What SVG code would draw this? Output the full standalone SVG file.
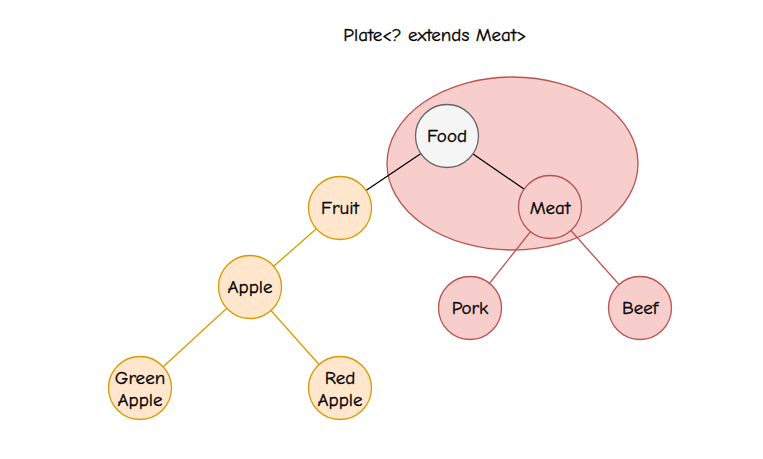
<svg xmlns="http://www.w3.org/2000/svg" width="763" height="459" viewBox="0 0 763 459">
<style>
text{font-family:"Comic Sans MS","Comic Neue","Liberation Sans",sans-serif;font-size:19px;fill:#000;text-anchor:middle;dominant-baseline:central;stroke:#000;stroke-width:0.35}
.grey{fill:#f5f5f5;stroke:#666666;stroke-width:1.3}
.orange{fill:#ffe6cc;stroke:#d79b00;stroke-width:1.3}
.red{fill:#f8cecc;stroke:#b85450;stroke-width:1.3}
.e{fill:none;stroke-width:1.3}
</style>
<rect width="763" height="459" fill="#ffffff"/>
<g id="title"><text x="435" y="35">Plate&lt;? extends Meat&gt;</text></g>
<g id="plate"><ellipse class="red" cx="512.5" cy="163.5" rx="125.5" ry="86.5"/></g>
<g id="connectors">
<line class="e" stroke="#000" x1="447" y1="136" x2="340" y2="208"/>
<line class="e" stroke="#000" x1="447" y1="136" x2="550" y2="207"/>
<line class="e" stroke="#d79b00" x1="340" y1="208" x2="250" y2="287"/>
<line class="e" stroke="#d79b00" x1="250" y1="287" x2="140" y2="388"/>
<line class="e" stroke="#d79b00" x1="250" y1="287" x2="340" y2="388"/>
<line class="e" stroke="#b85450" x1="550" y1="207" x2="470" y2="308"/>
<line class="e" stroke="#b85450" x1="550" y1="207" x2="640" y2="308"/>
</g>
<g id="food"><circle class="grey" cx="447" cy="136" r="31.5"/><text x="447" y="136">Food</text></g>
<g id="meat"><circle class="red" cx="550" cy="207" r="31.5"/><text x="550" y="208">Meat</text></g>
<g id="fruit"><circle class="orange" cx="340" cy="208" r="31.5"/><text x="340" y="208">Fruit</text></g>
<g id="apple"><circle class="orange" cx="250" cy="287" r="31.5"/><text x="250" y="287">Apple</text></g>
<g id="green-apple"><circle class="orange" cx="140" cy="388" r="31.5"/><text x="140" y="378">Green</text><text x="140" y="400">Apple</text></g>
<g id="red-apple"><circle class="orange" cx="340" cy="388" r="31.5"/><text x="340" y="378">Red</text><text x="340" y="400">Apple</text></g>
<g id="pork"><circle class="red" cx="470" cy="308" r="31.5"/><text x="470" y="308">Pork</text></g>
<g id="beef"><circle class="red" cx="640" cy="308" r="31.5"/><text x="640" y="308">Beef</text></g>
</svg>
